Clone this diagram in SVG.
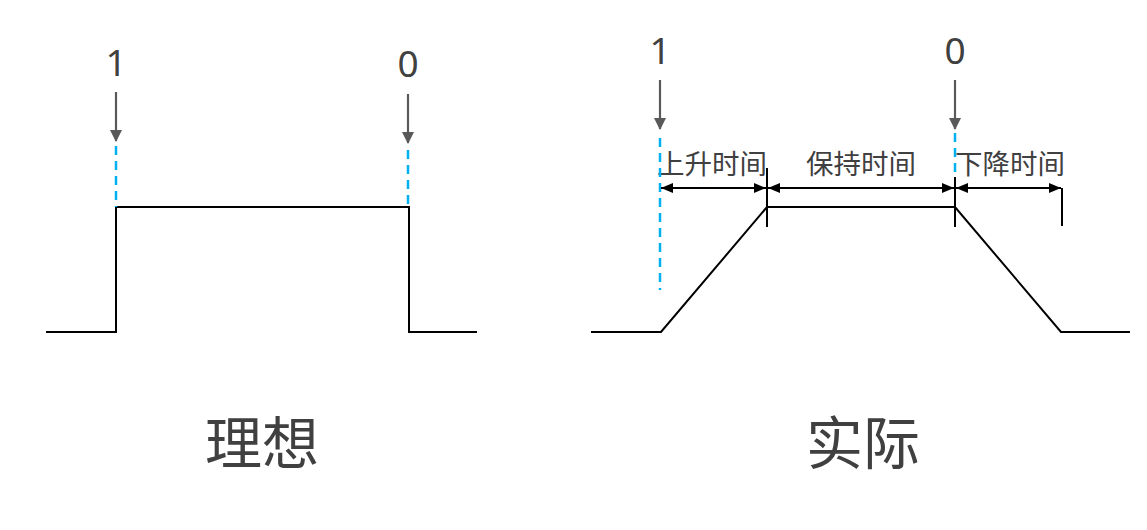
<svg xmlns="http://www.w3.org/2000/svg" width="1147" height="530" viewBox="0 0 1147 530">
<style>
.wave{fill:none;stroke:#000;stroke-width:2}
.tick{fill:none;stroke:#000;stroke-width:2}
.ptr{fill:none;stroke:#595959;stroke-width:2.2}
.dash{fill:none;stroke:#00b0f0;stroke-width:2.5;stroke-dasharray:9 6}
.dim{fill:none;stroke:#000;stroke-width:2}
.num{font-family:"Noto Sans","Noto Sans CJK SC",sans-serif;font-size:37px;fill:#404040;text-anchor:middle}
.lbl{font-family:"Noto Sans CJK SC",sans-serif;font-size:27.5px;fill:#404040}
.big{font-family:"Noto Sans CJK SC",sans-serif;font-size:57px;fill:#404040;text-anchor:middle}
</style>
<defs>
<marker id="gray" viewBox="0 0 12 12" refX="11" refY="6" markerWidth="12" markerHeight="12" markerUnits="userSpaceOnUse" orient="auto">
<path d="M0,0 L12,6 L0,12 Z" fill="#595959"/>
</marker>
<marker id="blk" viewBox="0 0 12 10" refX="12" refY="5" markerWidth="12" markerHeight="10" markerUnits="userSpaceOnUse" orient="auto-start-reverse">
<path d="M0,0 L12,5 L0,10 Z" fill="#000"/>
</marker>
</defs>
<g id="ideal-wave">
<polyline class="wave" points="46,332 116,332 116,207 409,207 409,332 477,332"/>
</g>
<g id="actual-wave">
<polyline class="wave" points="591,332 661,332 767,207 955,207 1061,332 1130,332"/>
</g>
<g id="ideal-labels">
<text class="num" x="116" y="76">1</text>
<text class="num" x="408" y="77">0</text>
<text class="big" x="262" y="464">理想</text>
</g>
<g id="actual-labels">
<text class="num" x="660" y="64">1</text>
<text class="num" x="955" y="64">0</text>
<text class="lbl" x="657" y="174">上升时间</text>
<text class="lbl" x="806" y="174">保持时间</text>
<text class="lbl" x="955" y="174">下降时间</text>
<text class="big" x="863" y="464">实际</text>
</g>
<g id="connectors">
<line class="ptr" x1="116" y1="92" x2="116" y2="141" marker-end="url(#gray)"/>
<line class="ptr" x1="408" y1="94" x2="408" y2="143" marker-end="url(#gray)"/>
<line class="ptr" x1="660" y1="80" x2="660" y2="129" marker-end="url(#gray)"/>
<line class="ptr" x1="955" y1="80" x2="955" y2="129" marker-end="url(#gray)"/>
<line class="dash" x1="116" y1="146" x2="116" y2="207"/>
<line class="dash" x1="408" y1="150" x2="408" y2="205"/>
<line class="dash" x1="660" y1="138" x2="660" y2="290"/>
<line class="dash" x1="955" y1="133" x2="955" y2="177"/>
<line class="tick" x1="767" y1="168" x2="767" y2="227"/>
<line class="tick" x1="955" y1="177" x2="955" y2="227"/>
<line class="tick" x1="1062" y1="188" x2="1062" y2="226"/>
<line class="dim" x1="661" y1="188" x2="766" y2="188" marker-start="url(#blk)" marker-end="url(#blk)"/>
<line class="dim" x1="768" y1="188" x2="954" y2="188" marker-start="url(#blk)" marker-end="url(#blk)"/>
<line class="dim" x1="956" y1="188" x2="1061" y2="188" marker-start="url(#blk)" marker-end="url(#blk)"/>
</g>
</svg>
